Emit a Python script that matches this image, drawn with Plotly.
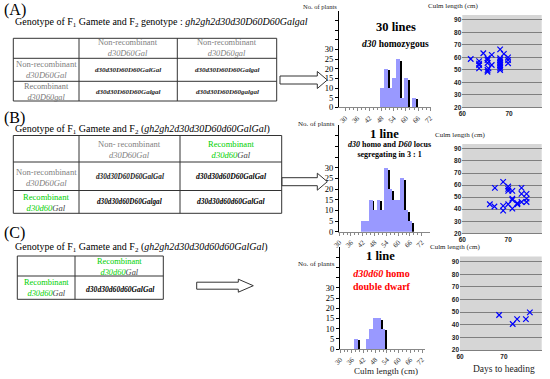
import plotly.graph_objects as go

W, H = 550, 379
SERIF = "Liberation Serif, Times New Roman, serif"
SANS = "Liberation Sans, Arial, sans-serif"
GRAY = "#808080"
GREEN = "#00d000"
RED = "#ff0000"


def px(x):
    return x / W


def py(y):
    return 1 - y / H


# ---------------- data ----------------
BIN_W = 2
histA_edges = [47, 49, 51, 53, 55, 57, 59, 61, 63]
histA_counts = [10, 20, 10, 15, 25, 5, 15, 0, 5]
histB_edges = [41, 43, 45, 47, 49, 51, 53, 55, 57, 59, 61, 63, 65]
histB_counts = [5, 5, 15, 10, 15, 10, 30, 20, 15, 15, 25, 10, 5]
histC_edges = [37, 39, 41, 43, 45, 47, 49, 51]
histC_counts = [5, 0, 0, 5, 10, 15, 15, 10]

hist_xticks = [30, 36, 42, 48, 54, 60, 66, 72]
hist_yticks = [0, 5, 10, 15, 20, 25, 30, 35, 40, 45]
hist_ylabels = ["0", "5", "10", "15", "20", "25", "30", "", "", ""]

scatA_days = [61.8, 63.6, 63.6, 63.6, 63.6, 64.5, 65.4, 65.4, 65.4, 65.6, 65.4, 65.4,
              66.3, 66.3, 68.1, 68.1, 68.1, 68.1, 68.1, 68.1, 68.1, 68.1, 68.1,
              68.9, 69.8, 69.8, 69.8]
scatA_culm = [58.7, 57.0, 55.0, 53.9, 51.2, 63.3, 59.3, 57.9, 55.5, 51.2, 49.9, 48.5,
              62.0, 53.9, 66.5, 59.3, 57.9, 56.6, 55.3, 53.9, 52.6, 51.2, 49.9,
              62.8, 60.0, 57.9, 55.3]

scatB_days = [66.0, 67.0, 67.1, 68.9, 68.9, 68.9, 70.0, 70.0, 70.0, 70.0, 70.9, 70.9,
              70.9, 70.9, 72.0, 72.0, 72.9, 72.9, 72.9, 74.0, 74.0, 74.0]
scatB_culm = [44.1, 42.2, 57.7, 62.7, 42.7, 38.8, 58.8, 56.8, 55.2, 44.1, 55.2, 48.8,
              47.7, 40.5, 44.9, 44.1, 57.7, 52.7, 46.0, 52.7, 48.8, 46.0]

scatC_days = [68.9, 72.0, 73.0, 75.0, 75.9]
scatC_culm = [47.7, 40.6, 44.5, 44.5, 49.8]

scat_yticks = [20, 30, 40, 50, 60, 70, 80, 90]
scat_xticks = [60, 70]

fig = go.Figure()

# ---------------- histograms ----------------
hist_sets = [
    (histA_edges, histA_counts, "x", "y"),
    (histB_edges, histB_counts, "x3", "y3"),
    (histC_edges, histC_counts, "x5", "y5"),
]
for edges, counts, xa, ya in hist_sets:
    centers = [e + BIN_W / 2 for e in edges]
    fig.add_trace(go.Bar(x=centers, y=counts, width=BIN_W, marker=dict(color="#9999ff", line=dict(width=0)),
                         xaxis=xa, yaxis=ya, showlegend=False, hoverinfo="skip"))
    sx, sb, sh = [], [], []
    for i, c in enumerate(counts):
        nxt = counts[i + 1] if i + 1 < len(counts) else 0
        if c > nxt:
            sx.append(edges[i] + BIN_W + 0.45)
            sb.append(nxt)
            sh.append(c - nxt - 0.8)
    fig.add_trace(go.Bar(x=sx, y=sh, base=sb, width=0.9, marker=dict(color="black", line=dict(width=0)),
                         xaxis=xa, yaxis=ya, showlegend=False, hoverinfo="skip"))

# ---------------- scatters ----------------
for xs, ys, xa, ya in [(scatA_days, scatA_culm, "x2", "y2"),
                       (scatB_days, scatB_culm, "x4", "y4"),
                       (scatC_days, scatC_culm, "x6", "y6")]:
    fig.add_trace(go.Scatter(x=xs, y=ys, mode="markers", xaxis=xa, yaxis=ya, showlegend=False,
                             marker=dict(symbol="x-thin-open", size=5.5, color="#0000ff",
                                         line=dict(width=1.2, color="#0000ff"))))


def hist_x(dom, anc, rng):
    return dict(domain=dom, anchor=anc, range=rng, showgrid=False, zeroline=False, automargin=False,
                showline=True, linecolor="#888", linewidth=1, tickmode="array", tickvals=hist_xticks,
                ticks="outside", ticklen=3, tickcolor="#888", tickangle=-45,
                tickfont=dict(family=SERIF, size=7, color="#333"),
                minor=dict(tickvals=list(range(30, 74, 2)), ticks="outside", ticklen=2, tickcolor="#888"))


def hist_y(dom, anc):
    return dict(domain=dom, anchor=anc, range=[0, 50], showgrid=False, zeroline=False, showline=True,
                automargin=False, linecolor="black", linewidth=1, tickmode="array", tickvals=hist_yticks,
                ticktext=hist_ylabels, ticks="outside", ticklen=3, tickcolor="black",
                tickfont=dict(family=SERIF, size=8.5, color="black"))


def scat_x(dom, anc, rng):
    return dict(domain=dom, anchor=anc, range=rng, showgrid=False, zeroline=False, showline=True,
                automargin=False, linecolor="#7f7f7f", tickmode="array", tickvals=scat_xticks, ticks="",
                tickfont=dict(family=SANS, size=6.5, color="#222", weight="bold"))


def scat_y(dom, anc):
    return dict(domain=dom, anchor=anc, range=[20, 94], showgrid=True, gridcolor="#7f7f7f", gridwidth=1,
                automargin=False, zeroline=False, showline=False, tickmode="array", tickvals=scat_yticks,
                ticks="", tickfont=dict(family=SANS, size=6.5, color="#222", weight="bold"))


layout = dict(
    width=W, height=H, margin=dict(l=0, r=0, t=0, b=0, pad=0, autoexpand=False),
    paper_bgcolor="white", plot_bgcolor="white", barmode="overlay", bargap=0,
    xaxis=hist_x([px(339), px(431)], "y", [26.94, 72.4]),
    yaxis=hist_y([py(107.3), py(10.8)], "x"),
    xaxis3=hist_x([px(339), px(430)], "y3", [29.9, 76.2]),
    yaxis3=hist_y([py(231.7), py(125.2)], "x3"),
    xaxis5=hist_x([px(340), px(425)], "y5", [29.9, 73.5]),
    yaxis5=hist_y([py(349), py(247)], "x5"),
    xaxis2=scat_x([px(462.3), px(541.7)], "y2", [60, 77]),
    yaxis2=scat_y([py(107.3), py(15)], "x2"),
    xaxis4=scat_x([px(462.3), px(541.7)], "y4", [60, 77.3]),
    yaxis4=scat_y([py(233.3), py(144.1)], "x4"),
    xaxis6=scat_x([px(460), px(541.7)], "y6", [60, 78.6]),
    yaxis6=scat_y([py(350), py(256.6)], "x6"),
)
fig.update_layout(**layout)

shapes = []
# gray backgrounds for scatter panels
for n in ["2", "4", "6"]:
    shapes.append(dict(type="rect", xref=f"x{n} domain", yref=f"y{n} domain", x0=0, x1=1, y0=0, y1=1,
                       fillcolor="#d6d6d6", line=dict(width=0), layer="below"))


def line(x0, y0, x1, y1, color="#333", w=1):
    shapes.append(dict(type="line", xref="paper", yref="paper", x0=px(x0), y0=py(y0), x1=px(x1), y1=py(y1),
                       line=dict(color=color, width=w)))


def box(x0, y0, x1, y1):
    shapes.append(dict(type="rect", xref="paper", yref="paper", x0=px(x0), y0=py(y0), x1=px(x1), y1=py(y1),
                       line=dict(color="#333", width=1), fillcolor="rgba(0,0,0,0)"))


def arrow(x0, xh, xt, yc, hs, hh):
    pts = [(x0, yc - hs), (xh, yc - hs), (xh, yc - hh), (xt, yc), (xh, yc + hh), (xh, yc + hs), (x0, yc + hs)]
    path = "M " + " L ".join(f"{px(a):.5f},{py(b):.5f}" for a, b in pts) + " Z"
    shapes.append(dict(type="path", xref="paper", yref="paper", path=path, fillcolor="white",
                       line=dict(color="#333", width=1)))


# Table A
box(13.3, 38.3, 276.7, 101)
line(79, 38.3, 79, 101)
line(177.3, 38.3, 177.3, 101)
line(13.3, 58.3, 276.7, 58.3)
line(13.3, 81.3, 276.7, 81.3)
# Table B
box(13.3, 135.5, 281.7, 213.3)
line(79, 135.5, 79, 213.3)
line(180, 135.5, 180, 213.3)
line(13.3, 162, 281.7, 162)
line(13.3, 190.5, 281.7, 190.5)
# Table C
box(17.3, 256, 163.3, 299.3)
line(75, 256, 75, 299.3)
line(17.3, 276, 163.3, 276)

arrow(280, 317.3, 327.3, 80, 4, 8.5)
arrow(282, 317.3, 327.3, 181.7, 4, 8.5)
arrow(196.7, 238.3, 253.3, 285.7, 3.5, 6.5)

fig.update_layout(shapes=shapes)

anns = []


def ann(text, x, y, size, color="black", family=SERIF, xanchor="center"):
    anns.append(dict(text=text, x=px(x), y=py(y), xref="paper", yref="paper", xanchor=xanchor,
                     yanchor="middle", showarrow=False, font=dict(family=family, size=size, color=color)))


# panel labels and titles
ann("(A)", 2, 10, 16, xanchor="left")
ann("(B)", 2, 118, 16, xanchor="left")
ann("(C)", 2, 233, 16, xanchor="left")
ann("Genotype of F<sub>1</sub> Gamete and F<sub>2</sub> genotype : <i>gh2gh2d30d30D60D60Galgal</i>", 13, 23, 10,
    xanchor="left")
ann("Genotype of F<sub>1</sub> Gamete and F<sub>2</sub> (<i>gh2gh2d30d30D60d60GalGal</i>)", 13, 130, 10,
    xanchor="left")
ann("Genotype of F<sub>1</sub> Gamete and F<sub>2</sub> (<i>gh2gh2d30d30d60d60GalGal</i>)", 13, 247, 10,
    xanchor="left")

# Table A text
ann("Non-recombinant<br><i>d30D60Gal</i>", 128, 48, 8.4, GRAY)
ann("Non-recombinant<br><i>d30D60gal</i>", 227, 48, 8.4, GRAY)
ann("Non-recombinant<br><i>d30D60Gal</i>", 46, 69.5, 8.6, GRAY)
ann("Recombinant<br><i>d30D60gal</i>", 46, 91.5, 8.3, "#777")
ann("<b><i>d30d30D60D60GalGal</i></b>", 128, 70, 7, "#222")
ann("<b><i>d30d30D60D60Galgal</i></b>", 227, 70, 7, "#222")
ann("<b><i>d30d30D60D60Galgal</i></b>", 128, 92, 7, "#222")
ann("<b><i>d30d30D60D60galgal</i></b>", 227, 92, 7, "#222")

# Table B text
ann("Non- recombinant<br><i>d30D60Gal</i>", 129.5, 149.5, 8.5, GRAY)
ann(f"Recombinant<br><i><span style='color:{GREEN}'>d30d60</span><span style='color:#444'>Gal</span></i>",
    231, 149.5, 8.6, GREEN)
ann("Non-recombinant<br><i>d30D60Gal</i>", 46, 177, 8.6, GRAY)
ann(f"Recombinant<br><i><span style='color:{GREEN}'>d30d60</span><span style='color:#444'>Gal</span></i>",
    46, 202.5, 8.6, GREEN)
ann("<b><i>d30d30D60D60GalGal</i></b>", 129.5, 176.5, 7.2, "#222")
ann("<b><i>d30d30d60D60GalGal</i></b>", 231, 176.5, 7.6, "black")
ann("<b><i>d30d30d60D60Galgal</i></b>", 129.5, 201.5, 7.2, "black")
ann("<b><i>d30d30d60d60GalGal</i></b>", 231, 201.5, 7.5, "black")

# Table C text
ann(f"Recombinant<br><i><span style='color:{GREEN}'>d30d60</span><span style='color:#444'>Gal</span></i>",
    119, 266.5, 8.4, GREEN)
ann(f"Recombinant<br><i><span style='color:{GREEN}'>d30d60</span><span style='color:#444'>Gal</span></i>",
    46, 287.5, 8.4, GREEN)
ann("<b><i>d30d30d60d60GalGal</i></b>", 120, 289, 7.6, "black")

# Histogram texts
ann("No. of plants", 320, 6, 6.5, "#222")
ann("<b>30 lines</b>", 396, 27, 12.5)
ann("<b><i>d30</i> homozygous</b>", 395, 44, 9.5)
ann("No. of plants", 316, 124, 7, "#222")
ann("<b>1 line</b>", 384, 134, 12.5)
ann("<b><i>d30</i> homo and <i>D60</i> locus<br>segregating in 3 : 1</b>", 389, 149.5, 8)
ann("No. of plants", 316, 264, 7, "#222")
ann("<b>1 line</b>", 380, 256, 12.5)
ann("<b><i>d30d60</i> homo<br>double dwarf</b>", 382, 279.5, 10, RED)
ann("Culm length (cm)", 386, 371, 9, "#222")

# Scatter texts
ann("Culm length (cm)", 453, 6, 7, "#222")
ann("Culm length (cm)", 460, 135, 7, "#222")
ann("Culm length (cm)", 455, 247, 7, "#222")
ann("Days to heading", 504, 369, 9.5, "#222")

fig.update_layout(annotations=anns)

fig.write_html("out.html", config={"displayModeBar": False, "staticPlot": True},
               post_script="document.body.style.margin='0px';document.body.style.padding='0px';"
                           "document.body.style.overflow='hidden';")
